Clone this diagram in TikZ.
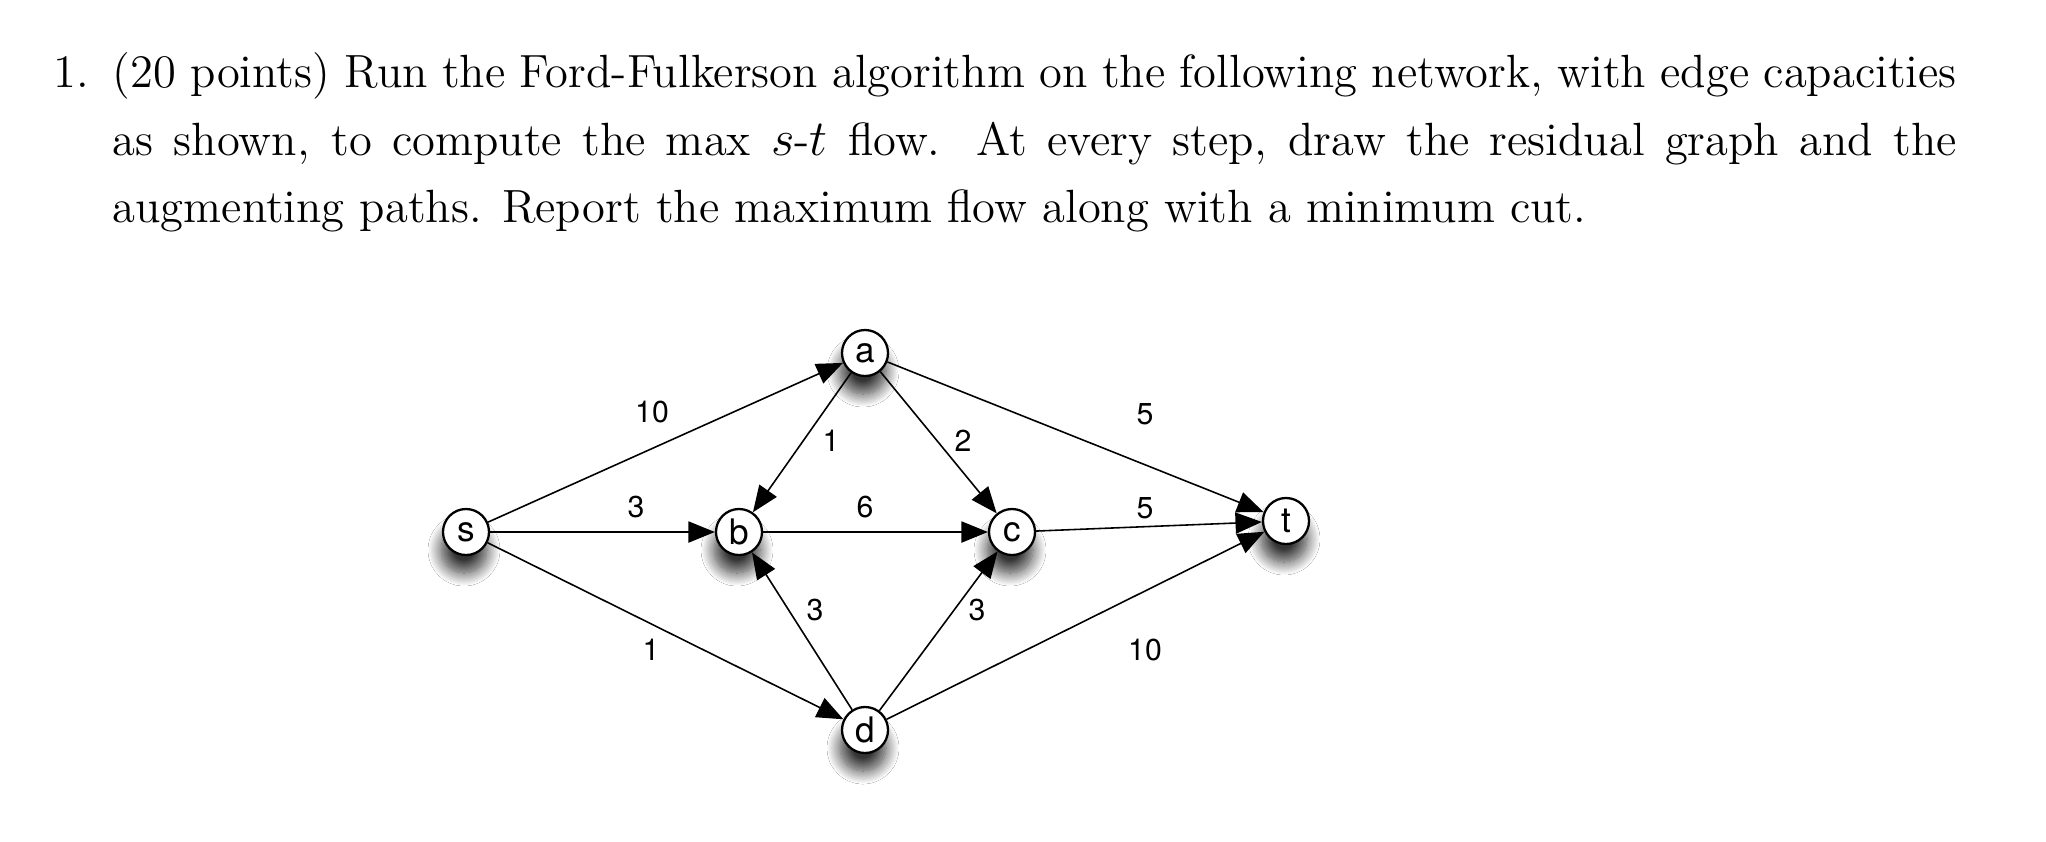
\documentclass[tikz,border=0pt]{standalone}
\usepackage{fontspec}
\setsansfont{TeX Gyre Heros}
\usetikzlibrary{arrows.meta,shadows.blur}

\begin{document}
\begin{tikzpicture}[x=0.01cm,y=-0.01cm,
  vertex/.style={circle, draw, line width=0.65pt, fill=white, minimum size=4.6mm, inner sep=0pt,
                 font=\sffamily\fontsize{10}{11}\selectfont,
                 blur shadow={shadow xshift=-0.2mm, shadow yshift=-1.8mm, shadow blur radius=1.3mm,
                              shadow blur steps=16, shadow opacity=80}},
  flow/.style={-{Triangle[length=7.5pt,width=6pt]}, line width=0.45pt},
  capacity/.style={font=\sffamily\fontsize{8.6}{9}\selectfont, inner sep=0pt},
  textline/.style={anchor=base west, inner sep=0pt, font=\fontsize{13.25}{19}\selectfont}]
\useasboundingbox[fill=white] (0,0) rectangle (2046,841);

% the question
\node[textline] (num) at (53,87) {1.};
\node[textline] (q1) at (112,87) {\makebox[18.43cm][s]{(20 points) Run the Ford-Fulkerson algorithm on the following network, with edge capacities}};
\node[textline] (q2) at (112,155) {\makebox[18.43cm][s]{as shown, to compute the max $s$-$t$ flow.  At every step, draw the residual graph and the}};
\node[textline] (q3) at (112,222) {augmenting paths. Report the maximum flow along with a minimum cut.};

% the network
\node[vertex] (s) at (466,532) {s};
\node[vertex] (a) at (865,353) {a};
\node[vertex] (b) at (739,532) {b};
\node[vertex] (c) at (1012,532) {c};
\node[vertex] (d) at (865,730) {d};
\node[vertex] (t) at (1286,521) {t};

\draw[flow] (s) -- (a);
\draw[flow] (s) -- (b);
\draw[flow] (s) -- (d);
\draw[flow] (a) -- (b);
\draw[flow] (a) -- (c);
\draw[flow] (a) -- (t);
\draw[flow] (b) -- (c);
\draw[flow] (c) -- (t);
\draw[flow] (d) -- (b);
\draw[flow] (d) -- (c);
\draw[flow] (d) -- (t);

% capacities
\node[capacity] (l-sa) at (652,412) {10};
\node[capacity] (l-sb) at (636,507) {3};
\node[capacity] (l-sd) at (651,650) {1};
\node[capacity] (l-ab) at (831,441) {1};
\node[capacity] (l-ac) at (963,441) {2};
\node[capacity] (l-at) at (1145,414) {5};
\node[capacity] (l-bc) at (865,507) {6};
\node[capacity] (l-ct) at (1145,508) {5};
\node[capacity] (l-db) at (815,610) {3};
\node[capacity] (l-dc) at (977,610) {3};
\node[capacity] (l-dt) at (1145,650) {10};
\end{tikzpicture}
\end{document}
